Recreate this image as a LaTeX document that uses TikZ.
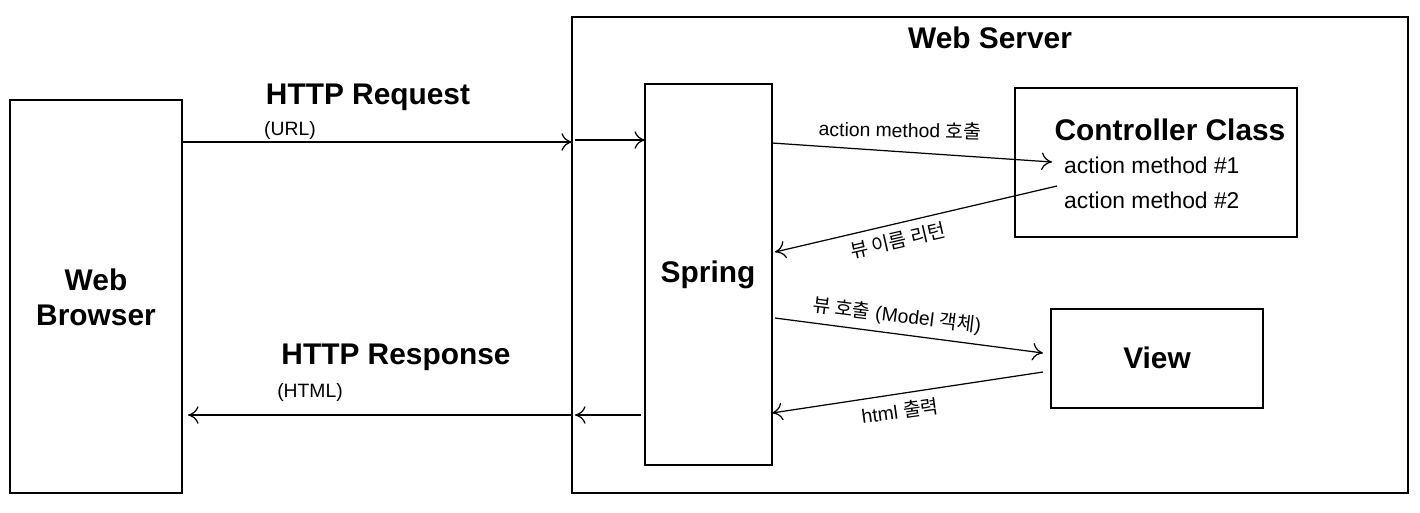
\documentclass[tikz,border=0pt]{standalone}
\usepackage{fontspec}
\setmainfont{Liberation Sans}
\newfontfamily\kr{Noto Sans CJK KR}
\usetikzlibrary{arrows.meta}
\begin{document}
\begin{tikzpicture}[x=0.02cm,y=-0.02cm,
  box/.style={draw,line width=0.8pt},
  arr/.style={-{To[length=6pt,width=10pt]},line width=0.7pt},
  big/.style={font=\fontsize{17}{20}\selectfont\bfseries},
  lab/.style={font=\fontsize{11}{13}\selectfont,inner sep=0pt}]
\useasboundingbox (0,0) rectangle (1420,512);
\draw[box] (10,100) rectangle (182,493);
\node[big,align=center] (wb) at (96,297) {Web\\Browser};
\draw[box] (572,17) rectangle (1408,493);
\node[big] (ws) at (990,38) {Web Server};
\draw[box] (645,84) rectangle (772,465);
\node[big] (sp) at (708,275) {Spring};
\draw[box] (1015,88) rectangle (1297,237);
\node[big] (cc) at (1170,130) {Controller Class};
\node[font=\fontsize{13}{15}\selectfont,anchor=west] (m1) at (1058,165) {action method \#1};
\node[font=\fontsize{13}{15}\selectfont,anchor=west] (m2) at (1058,200) {action method \#2};
\draw[box] (1051,309) rectangle (1263,408);
\node[big] (vw) at (1157,358) {View};
\node[big] (req) at (368,97) {HTTP Request};
\node[lab] (url) at (290,130) {(URL)};
\node[big] (res) at (396,357) {HTTP Response};
\node[lab] (html) at (310,392) {(HTML)};
\coordinate (a1) at (182,142); \coordinate (a2) at (572,142);
\coordinate (a3) at (575,140); \coordinate (a4) at (645,140);
\draw[arr] (a1) -- (a2); \draw[arr] (a3) -- (a4);
\coordinate (b1) at (572,415); \coordinate (b2) at (188,415);
\coordinate (b3) at (641,415); \coordinate (b4) at (575,415);
\draw[arr] (b1) -- (b2); \draw[arr] (b3) -- (b4);
\coordinate (c1) at (772,143); \coordinate (c2) at (1052,162);
\draw[arr] (c1) -- (c2);
\node[lab,rotate=-1] (l1) at (900,130) {action method {\kr 호출}};
\coordinate (d1) at (1057,186); \coordinate (d2) at (775,252);
\draw[arr] (d1) -- (d2);
\node[lab,rotate=13] (l2) at (898,240) {\kr 뷰 이름 리턴};
\coordinate (e1) at (775,318); \coordinate (e2) at (1043,353);
\draw[arr] (e1) -- (e2);
\node[lab,rotate=-7] (l3) at (897,316) {{\kr 뷰 호출} (Model {\kr 객체})};
\coordinate (f1) at (1043,372); \coordinate (f2) at (772,413);
\draw[arr] (f1) -- (f2);
\node[lab,rotate=8] (l4) at (900,411) {html {\kr 출력}};
\end{tikzpicture}
\end{document}
